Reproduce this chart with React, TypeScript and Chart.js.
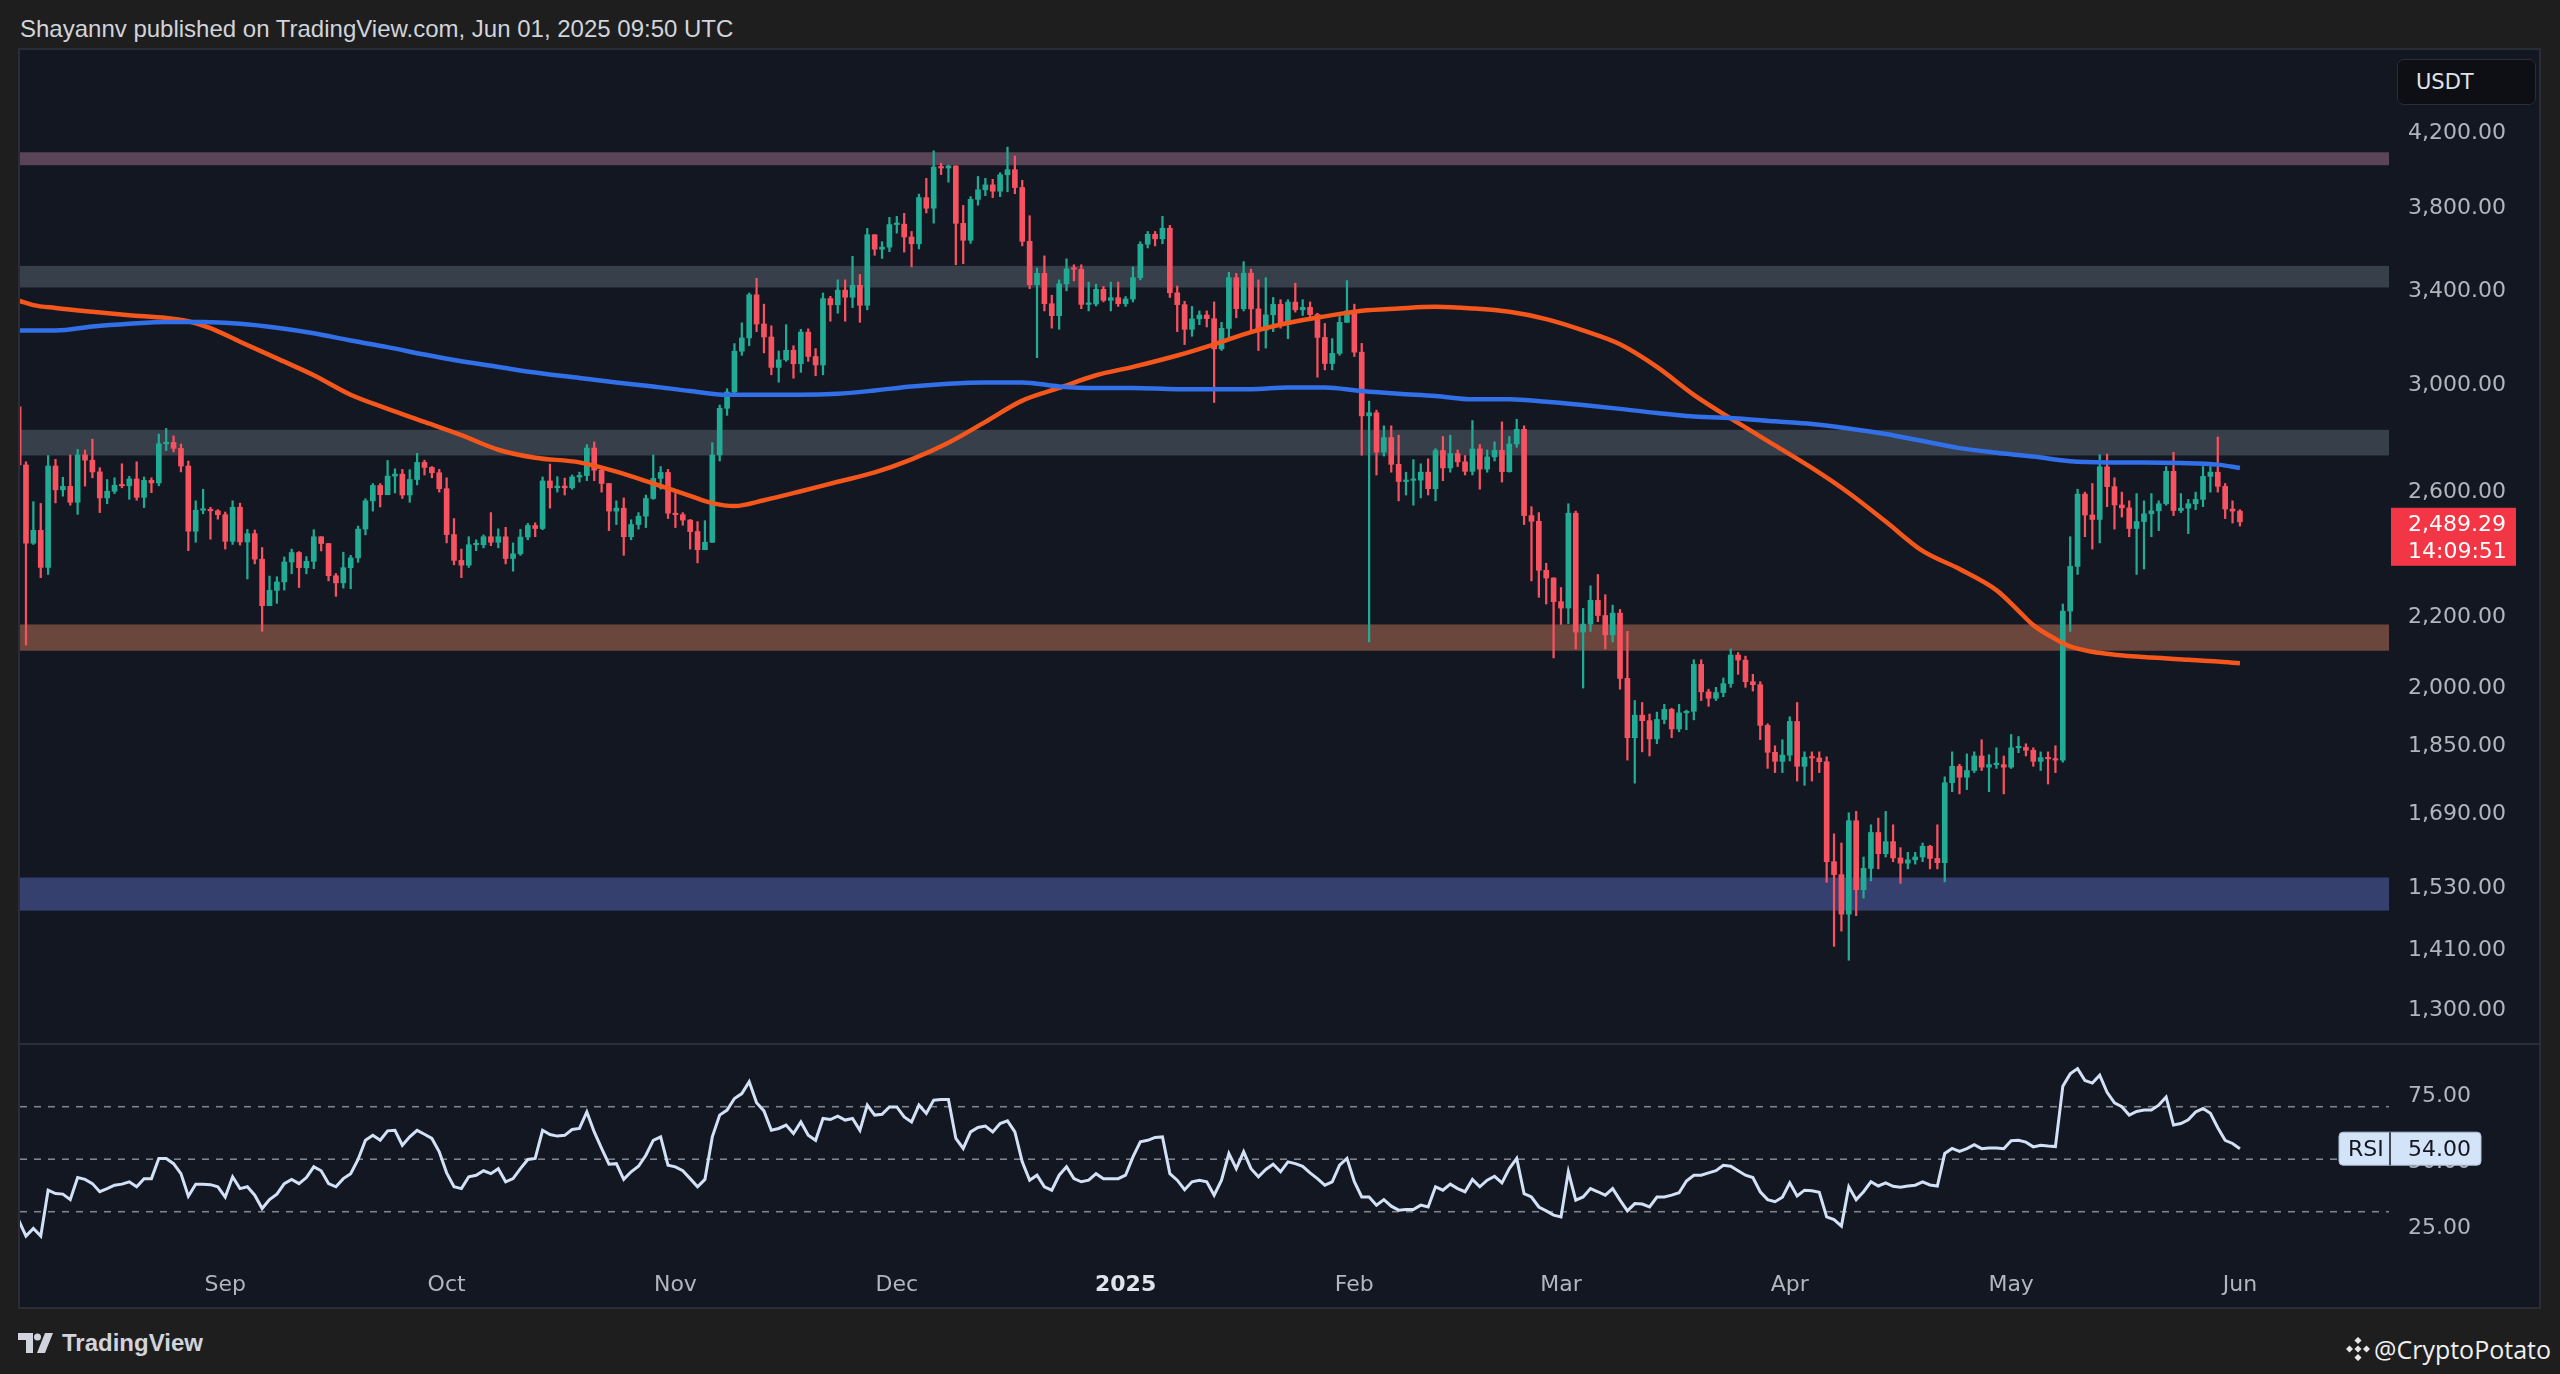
import React, { useEffect, useRef } from 'react';
import { Chart, registerables } from 'chart.js';

Chart.register(...registerables);

// ---------------- DATA ----------------
// Daily ETH/USDT candles, first candle = Aug 4, 2024 (index 0), last = Jun 1, 2025 (index 301)
const FIRST_DAY = '2024-08-04';
const firstOpen = 2903;

const closes = [
  2686,
  // Aug 5 - Aug 31
  2419, 2461, 2342, 2682, 2598, 2610, 2555, 2722, 2703, 2661, 2570, 2593, 2614, 2612, 2636, 2572, 2631, 2622, 2763, 2768, 2746, 2682, 2458, 2528, 2528, 2526, 2513,
  // Sep
  2425, 2538, 2423, 2450, 2368, 2225, 2271, 2297, 2359, 2389, 2341, 2361, 2440, 2418, 2316, 2294, 2341, 2372, 2465, 2560, 2613, 2581, 2646, 2653, 2580, 2634, 2695, 2677, 2658, 2602,
  // Oct
  2447, 2364, 2349, 2414, 2414, 2440, 2422, 2440, 2370, 2385, 2439, 2477, 2467, 2629, 2605, 2611, 2605, 2643, 2648, 2747, 2667, 2620, 2525, 2535, 2440, 2480, 2508, 2568, 2638, 2659, 2518,
  // Nov
  2513, 2495, 2457, 2398, 2422, 2722, 2897, 2961, 3127, 3183, 3372, 3243, 3187, 3060, 3091, 3131, 3075, 3208, 3105, 3070, 3355, 3327, 3393, 3361, 3415, 3325, 3654, 3584, 3594, 3704,
  // Dec
  3706, 3643, 3610, 3840, 3786, 4000, 3995, 4006, 3710, 3627, 3831, 3880, 3906, 3873, 3959, 3986, 3892, 3622, 3418, 3470, 3332, 3279, 3422, 3491, 3489, 3329, 3331, 3397, 3347, 3359, 3332,
  // Jan
  3353, 3450, 3608, 3656, 3634, 3686, 3381, 3328, 3220, 3265, 3282, 3266, 3137, 3224, 3450, 3310, 3471, 3309, 3216, 3283, 3329, 3240, 3339, 3305, 3316, 3284, 3185, 3076, 3118, 3250, 3300,
  // Feb
  3123, 2868, 2880, 2732, 2786, 2688, 2627, 2631, 2632, 2660, 2602, 2738, 2675, 2727, 2697, 2663, 2744, 2671, 2715, 2739, 2662, 2762, 2817, 2510, 2491, 2333, 2309, 2237,
  // Mar
  2218, 2518, 2148, 2171, 2241, 2196, 2140, 2203, 2019, 1865, 1922, 1908, 1862, 1911, 1937, 1887, 1928, 1932, 2057, 1983, 1966, 1981, 2005, 2083, 2069, 2010, 2002, 1896, 1829, 1807, 1822,
  // Apr
  1906, 1795, 1817, 1815, 1806, 1580, 1553, 1473, 1669, 1522, 1566, 1643, 1597, 1623, 1588, 1577, 1584, 1590, 1613, 1587, 1578, 1756, 1795, 1769, 1785, 1820, 1793, 1799, 1799, 1793,
  // May
  1840, 1841, 1834, 1807, 1816, 1813, 1810, 2209, 2345, 2583, 2512, 2497, 2679, 2609, 2546, 2536, 2467, 2490, 2516, 2526, 2550, 2663, 2527, 2535, 2550, 2565, 2645, 2660, 2610, 2532, 2525,
  // Jun 1
  2489.29,
];

const highs = [
  2935,
  2697, 2557, 2551, 2720, 2706, 2642, 2722, 2742, 2740, 2780, 2676, 2634, 2640, 2690, 2645, 2697, 2643, 2640, 2799, 2820, 2792, 2762, 2700, 2560, 2600, 2538, 2530,
  2522, 2560, 2552, 2464, 2462, 2405, 2315, 2313, 2375, 2400, 2392, 2376, 2463, 2440, 2418, 2323, 2390, 2380, 2475, 2567, 2620, 2620, 2702, 2672, 2670, 2669, 2728, 2703, 2680, 2670,
  2640, 2500, 2400, 2440, 2430, 2446, 2520, 2466, 2471, 2420, 2464, 2484, 2486, 2643, 2689, 2644, 2639, 2650, 2660, 2760, 2770, 2675, 2620, 2560, 2570, 2496, 2520, 2580, 2722, 2680, 2670,
  2585, 2520, 2497, 2490, 2493, 2767, 2910, 2974, 3159, 3248, 3380, 3447, 3330, 3235, 3128, 3240, 3150, 3220, 3222, 3138, 3380, 3365, 3440, 3440, 3550, 3465, 3685, 3640, 3620, 3740,
  3745, 3760, 3670, 3858, 3940, 4088, 4021, 4010, 4007, 3800, 3845, 3950, 3940, 3935, 3970, 4108, 4060, 3930, 3748, 3495, 3552, 3370, 3440, 3538, 3510, 3510, 3430, 3420, 3410, 3430, 3430,
  3364, 3500, 3620, 3670, 3670, 3745, 3700, 3412, 3343, 3320, 3300, 3300, 3340, 3250, 3475, 3470, 3525, 3490, 3440, 3450, 3360, 3350, 3350, 3425, 3350, 3340, 3290, 3245, 3180, 3275, 3437,
  3330, 3160, 2925, 2890, 2830, 2830, 2795, 2660, 2705, 2690, 2708, 2745, 2790, 2795, 2740, 2720, 2850, 2760, 2740, 2770, 2845, 2790, 2855, 2830, 2540, 2520, 2355, 2310,
  2280, 2550, 2525, 2217, 2285, 2320, 2258, 2227, 2214, 2150, 1960, 1955, 1925, 1930, 1950, 1940, 1950, 1935, 2070, 2070, 1990, 1995, 2020, 2100, 2090, 2080, 2030, 2010, 1900, 1845, 1860,
  1918, 1955, 1830, 1830, 1830, 1818, 1640, 1620, 1687, 1690, 1590, 1660, 1675, 1690, 1660, 1610, 1600, 1600, 1620, 1615, 1660, 1770, 1830, 1800, 1825, 1830, 1860, 1823, 1840, 1820,
  1873, 1868, 1850, 1840, 1830, 1830, 1845, 2230, 2440, 2600, 2590, 2620, 2723, 2725, 2640, 2590, 2560, 2585, 2560, 2585, 2560, 2680, 2732, 2585, 2565, 2590, 2680, 2680, 2788, 2620, 2560,
  2530,
];

const lows = [
  2630,
  2111, 2415, 2310, 2320, 2553, 2576, 2545, 2514, 2611, 2640, 2520, 2550, 2585, 2605, 2565, 2562, 2537, 2588, 2612, 2738, 2733, 2661, 2395, 2422, 2516, 2432, 2498,
  2400, 2415, 2413, 2306, 2353, 2150, 2235, 2232, 2272, 2322, 2280, 2322, 2338, 2394, 2300, 2253, 2278, 2276, 2358, 2446, 2525, 2539, 2585, 2587, 2568, 2555, 2615, 2650, 2640, 2590,
  2420, 2350, 2310, 2342, 2395, 2404, 2411, 2404, 2353, 2330, 2380, 2430, 2440, 2463, 2535, 2590, 2580, 2600, 2625, 2630, 2630, 2590, 2460, 2480, 2380, 2430, 2465, 2470, 2565, 2600, 2500,
  2470, 2478, 2400, 2356, 2405, 2421, 2700, 2870, 2950, 3110, 3150, 3210, 3120, 3030, 3000, 3085, 3016, 3040, 3085, 3026, 3030, 3255, 3290, 3255, 3315, 3250, 3305, 3555, 3540, 3572,
  3662, 3570, 3500, 3585, 3762, 3711, 3960, 3920, 3510, 3515, 3612, 3801, 3850, 3840, 3845, 3870, 3860, 3600, 3400, 3100, 3300, 3225, 3220, 3390, 3435, 3310, 3300, 3322, 3340, 3300, 3320,
  3320, 3340, 3440, 3590, 3600, 3610, 3360, 3210, 3155, 3190, 3240, 3230, 2920, 3130, 3180, 3270, 3300, 3210, 3130, 3140, 3210, 3225, 3180, 3295, 3280, 3270, 3020, 3050, 3050, 3110, 3260,
  3105, 2721, 2120, 2650, 2718, 2660, 2560, 2580, 2545, 2570, 2580, 2560, 2630, 2660, 2680, 2650, 2650, 2600, 2660, 2700, 2625, 2660, 2750, 2480, 2300, 2250, 2230, 2075,
  2170, 2172, 2100, 1993, 2150, 2178, 2100, 2120, 1990, 1810, 1755, 1830, 1820, 1850, 1900, 1865, 1880, 1885, 1910, 1960, 1945, 1960, 1970, 1995, 2030, 1995, 1985, 1860, 1790, 1780, 1780,
  1808, 1760, 1750, 1760, 1780, 1537, 1411, 1440, 1385, 1470, 1505, 1540, 1565, 1590, 1580, 1535, 1565, 1575, 1580, 1565, 1565, 1538, 1735, 1730, 1740, 1780, 1785, 1735, 1790, 1730,
  1790, 1828, 1820, 1795, 1785, 1753, 1780, 1805, 2150, 2320, 2440, 2400, 2420, 2540, 2465, 2505, 2440, 2320, 2337, 2440, 2460, 2545, 2510, 2520, 2450, 2530, 2540, 2590, 2590, 2500, 2485,
  2475,
];

// RSI(14) per candle (same indices as closes)
const rsiValues = [
  26.8, 20.7, 23.6, 20.7, 38.2, 36.9, 36.7, 34.6, 43.0, 42.3,
  40.7, 37.6, 38.8, 40.1, 40.5, 41.4, 39.5, 42.6, 42.6, 50.3,
  50.3, 48.3, 44.5, 35.9, 40.5, 40.5, 40.3, 39.5, 35.6, 43.3,
  38.8, 39.5, 36.3, 31.2, 34.6, 36.7, 40.7, 42.3, 40.7, 43.0,
  47.1, 45.6, 40.7, 39.5, 42.6, 44.5, 49.9, 57.2, 59.1, 57.2,
  60.8, 61.0, 55.3, 58.5, 61.0, 59.5, 57.9, 52.8, 44.8, 39.5,
  38.8, 43.3, 43.9, 45.6, 44.5, 46.4, 41.4, 42.6, 46.4, 49.9,
  50.3, 61.0, 59.4, 58.8, 59.1, 61.3, 61.7, 68.0, 60.4, 54.1,
  48.1, 48.3, 42.3, 45.2, 47.3, 51.5, 57.2, 58.5, 47.7, 47.1,
  45.6, 42.6, 39.5, 42.3, 58.5, 66.8, 68.7, 73.1, 75.0, 79.5,
  71.5, 68.4, 61.0, 61.7, 63.0, 59.8, 64.2, 59.1, 57.2, 65.5,
  65.1, 66.4, 64.9, 65.5, 61.0, 70.6, 66.8, 67.1, 69.9, 69.9,
  66.1, 64.2, 70.6, 67.4, 72.5, 72.7, 72.7, 57.9, 54.1, 60.4,
  62.1, 62.6, 60.4, 63.6, 64.6, 60.4, 49.0, 42.0, 43.9, 39.5,
  38.2, 43.9, 47.1, 42.6, 41.4, 42.0, 44.5, 42.6, 42.6, 42.6,
  43.9, 50.9, 56.6, 57.2, 58.3, 58.5, 44.5, 42.0, 38.4, 41.4,
  42.0, 41.4, 36.3, 42.0, 52.2, 46.4, 52.8, 46.4, 43.3, 46.1,
  48.1, 45.2, 49.0, 48.3, 47.3, 44.8, 42.6, 40.1, 41.4, 47.7,
  50.3, 41.4, 35.6, 35.6, 32.5, 34.6, 32.1, 30.6, 30.8, 30.8,
  32.5, 31.8, 39.5, 38.2, 40.5, 38.8, 37.6, 42.3, 39.5, 42.0,
  43.5, 41.0, 46.4, 50.3, 36.9, 35.6, 31.8, 30.3, 28.7, 28.0,
  45.2, 34.4, 35.6, 38.8, 37.6, 36.3, 38.8, 34.4, 30.3, 33.1,
  32.9, 31.8, 35.6, 35.6, 36.3, 37.2, 41.7, 43.9, 43.9, 44.8,
  45.6, 47.7, 47.3, 45.6, 43.9, 43.0, 37.6, 34.6, 33.8, 35.5,
  41.0, 36.0, 38.2, 38.0, 37.4, 28.0, 27.0, 24.5, 39.5, 34.6,
  37.6, 41.4, 39.8, 41.0, 39.7, 39.3, 39.8, 40.1, 41.4, 40.2,
  39.8, 52.2, 54.1, 53.0, 54.0, 55.5, 54.0, 54.3, 54.3, 54.0,
  57.0, 57.2, 56.5, 54.7, 55.3, 55.0, 54.8, 77.8, 82.5, 84.5,
  80.0, 79.0, 82.0, 75.5, 71.5, 70.0, 66.8, 68.2, 68.7, 68.7,
  70.6, 73.7, 63.0, 63.6, 65.0, 68.0, 69.3, 67.5, 62.0, 57.2,
  56.0, 54.0,
];

// Moving averages (candle index -> value)
const blueMaDays = [0, 5, 10, 15, 20, 25, 30, 35, 40, 45, 50, 55, 60, 65, 70, 76, 81, 86, 91, 96, 101, 106, 111, 116, 121, 126, 131, 136, 141, 146, 151, 157, 162, 167, 172, 177, 182, 187, 192, 197, 202, 207, 212, 217, 222, 227, 233, 238, 243, 248, 253, 258, 263, 268, 273, 278, 283, 288, 293, 298, 301];
const blueMaValues = [3215, 3215, 3232, 3244, 3252, 3252, 3244, 3227, 3203, 3172, 3144, 3113, 3085, 3062, 3039, 3017, 2999, 2983, 2965, 2950, 2950, 2950, 2954, 2967, 2983, 2994, 2999, 2999, 2983, 2977, 2977, 2972, 2972, 2972, 2979, 2979, 2965, 2954, 2945, 2932, 2932, 2923, 2910, 2895, 2879, 2866, 2858, 2847, 2837, 2820, 2799, 2773, 2747, 2730, 2716, 2699, 2695, 2695, 2693, 2687, 2675];

const orangeMaDays = [0, 2, 5, 10, 15, 20, 23, 26, 30, 35, 40, 45, 50, 55, 60, 65, 70, 76, 81, 86, 91, 94, 97, 101, 106, 111, 116, 121, 126, 131, 136, 141, 146, 151, 157, 162, 167, 172, 177, 182, 187, 192, 197, 202, 207, 212, 217, 222, 227, 233, 238, 243, 248, 253, 258, 263, 268, 271, 273, 276, 278, 281, 284, 289, 294, 298, 301];
const orangeMaValues = [3346, 3326, 3313, 3296, 3281, 3269, 3255, 3225, 3167, 3097, 3028, 2950, 2895, 2845, 2795, 2741, 2712, 2695, 2662, 2620, 2577, 2552, 2542, 2562, 2593, 2626, 2659, 2706, 2767, 2845, 2927, 2977, 3028, 3062, 3109, 3156, 3208, 3247, 3276, 3301, 3311, 3318, 3311, 3296, 3264, 3215, 3156, 3062, 2950, 2841, 2757, 2675, 2587, 2490, 2394, 2337, 2272, 2210, 2168, 2128, 2107, 2092, 2084, 2076, 2070, 2065, 2060];

// Horizontal zones (price ranges)
const zoneLows = [4010, 3405, 2720, 2095, 1480];
const zoneHighs = [4080, 3505, 2815, 2170, 1547];

// Axis ticks
const priceTicks = [1300, 1410, 1530, 1690, 1850, 2000, 2200, 2600, 3000, 3400, 3800, 4200];
const rsiTicks = [25, 50, 75];
const rsiLevels = [70, 50, 30];
const monthStarts = ['2024-09-01', '2024-10-01', '2024-11-01', '2024-12-01', '2025-01-01', '2025-02-01', '2025-03-01', '2025-04-01', '2025-05-01', '2025-06-01'];
const monthLabels = ['Sep', 'Oct', 'Nov', 'Dec', '2025', 'Feb', 'Mar', 'Apr', 'May', 'Jun'];
const countdownText = '14:09:51';

// ---------------- STYLE ----------------
const OUTER_BG = '#1e1e1e';
const PANE_BG = '#131722';
const BORDER = '#2a2d35';
const UP = '#22ab94';
const DOWN = '#f7525f';
const BLUE = '#3170e8';
const ORANGE = '#f4561c';
const RSI_COLOR = '#d2e1f6';
const AXIS_TEXT = '#b2b5be';
const ZONE_COLORS = ['#5a4457', '#363f4a', '#363f4a', '#6a463d', '#36406f'];
const FONT = "'DejaVu Sans', sans-serif";
const TICK_FONT_SIZE = 22;

const X_MIN = 0.19;
const X_MAX = 321.2;
const AXIS_WIDTH = 150;

Chart.defaults.font.family = FONT;

const dayIndex = (iso: string) => (Date.parse(iso) - Date.parse(FIRST_DAY)) / 86400000;
const fmtPrice = (v: number) => v.toLocaleString('en-US', { minimumFractionDigits: 2, maximumFractionDigits: 2 });

export default function App() {
  const mainRef = useRef<HTMLCanvasElement>(null);
  const rsiRef = useRef<HTMLCanvasElement>(null);

  useEffect(() => {
    document.body.style.margin = '0';
    document.body.style.background = OUTER_BG;

    const opens = closes.map((c, i) => (i === 0 ? firstOpen : closes[i - 1]));
    const colors = closes.map((c, i) => (c >= opens[i] ? UP : DOWN));
    const hi = highs.map((h, i) => Math.max(h, opens[i], closes[i]));
    const lo = lows.map((l, i) => Math.min(l, opens[i], closes[i]));
    const lastClose = closes[closes.length - 1];
    const lastRsi = rsiValues[rsiValues.length - 1];

    const zonesPlugin = {
      id: 'zones',
      beforeDatasetsDraw(chart: any) {
        const { ctx, chartArea, scales } = chart;
        ctx.save();
        zoneLows.forEach((low, i) => {
          const yTop = scales.y.getPixelForValue(zoneHighs[i]);
          const yBot = scales.y.getPixelForValue(low);
          ctx.fillStyle = ZONE_COLORS[i];
          ctx.fillRect(chartArea.left, yTop, chartArea.right - chartArea.left, yBot - yTop);
        });
        ctx.restore();
      },
    };

    const lastPricePlugin = {
      id: 'lastPrice',
      afterDraw(chart: any) {
        const { ctx, chartArea, scales } = chart;
        const y = scales.y.getPixelForValue(lastClose);
        ctx.save();
        ctx.fillStyle = '#f23645';
        ctx.fillRect(chartArea.right + 2, y - 14, 125, 58);
        ctx.fillStyle = '#ffffff';
        ctx.font = `${TICK_FONT_SIZE}px ${FONT}`;
        ctx.textBaseline = 'middle';
        ctx.textAlign = 'left';
        ctx.fillText(fmtPrice(lastClose), chartArea.right + 19, y + 4);
        ctx.fillText(countdownText, chartArea.right + 19, y + 31);
        ctx.restore();
      },
    };

    const rsiLabelPlugin = {
      id: 'rsiLabel',
      afterDraw(chart: any) {
        const { ctx, chartArea, scales } = chart;
        const y = scales.y.getPixelForValue(lastRsi);
        const left = chartArea.right - 50;
        const w = 142;
        const h = 33;
        ctx.save();
        ctx.fillStyle = '#d3e3f8';
        ctx.strokeStyle = '#aebfd8';
        ctx.lineWidth = 1;
        ctx.beginPath();
        (ctx as any).roundRect(left, y - h / 2, w, h, 4);
        ctx.fill();
        ctx.stroke();
        ctx.strokeStyle = '#131722';
        ctx.lineWidth = 1.5;
        ctx.beginPath();
        ctx.moveTo(chartArea.right + 1, y - h / 2);
        ctx.lineTo(chartArea.right + 1, y + h / 2);
        ctx.stroke();
        ctx.fillStyle = '#131722';
        ctx.font = `${TICK_FONT_SIZE}px ${FONT}`;
        ctx.textBaseline = 'middle';
        ctx.textAlign = 'left';
        ctx.fillText('RSI', left + 9, y + 2);
        ctx.fillText(lastRsi.toFixed(2), chartArea.right + 19, y + 2);
        ctx.restore();
      },
    };

    const yAfterFit = (s: any) => {
      s.width = AXIS_WIDTH;
      s.paddingTop = 0;
      s.paddingBottom = 0;
    };

    const mainChart = new Chart(mainRef.current as HTMLCanvasElement, {
      type: 'bar',
      data: {
        datasets: [
          {
            type: 'line',
            data: blueMaDays.map((d, i) => ({ x: d, y: blueMaValues[i] })),
            borderColor: BLUE,
            borderWidth: 4.5,
            pointRadius: 0,
            cubicInterpolationMode: 'monotone',
            order: 0,
          } as any,
          {
            type: 'line',
            data: orangeMaDays.map((d, i) => ({ x: d, y: orangeMaValues[i] })),
            borderColor: ORANGE,
            borderWidth: 4.5,
            pointRadius: 0,
            cubicInterpolationMode: 'monotone',
            order: 1,
          } as any,
          {
            type: 'bar',
            data: closes.map((c, i) => ({ x: i, y: [lo[i], hi[i]] })),
            backgroundColor: colors,
            barThickness: 1.6,
            grouped: false,
            order: 3,
          } as any,
          {
            type: 'bar',
            data: closes.map((c, i) => ({ x: i, y: [opens[i], c] })),
            backgroundColor: colors,
            barThickness: 5,
            minBarLength: 1.5,
            grouped: false,
            order: 2,
          } as any,
        ],
      },
      options: {
        responsive: false,
        maintainAspectRatio: false,
        animation: false,
        events: [],
        layout: { padding: 0 },
        plugins: { legend: { display: false }, tooltip: { enabled: false } },
        scales: {
          x: {
            type: 'linear',
            min: X_MIN,
            max: X_MAX,
            offset: false,
            display: false,
            grid: { display: false },
          },
          y: {
            type: 'logarithmic',
            position: 'right',
            min: 1239.9,
            max: 4677.9,
            grid: { display: false, drawTicks: false },
            border: { display: false },
            ticks: {
              color: AXIS_TEXT,
              font: { size: TICK_FONT_SIZE, family: FONT },
              padding: 19,
              labelOffset: 3,
              autoSkip: false,
              callback: (v: any) => fmtPrice(Number(v)),
            },
            afterBuildTicks: (s: any) => {
              s.ticks = priceTicks.map((v) => ({ value: v }));
            },
            afterFit: yAfterFit,
          },
        },
      } as any,
      plugins: [zonesPlugin, lastPricePlugin],
    });

    const monthIdx = monthStarts.map(dayIndex);

    const rsiChart = new Chart(rsiRef.current as HTMLCanvasElement, {
      type: 'line',
      data: {
        datasets: [
          {
            data: rsiValues.map((v, i) => ({ x: i, y: v })),
            borderColor: RSI_COLOR,
            borderWidth: 3,
            pointRadius: 0,
            tension: 0,
            order: 0,
          },
          ...rsiLevels.map((lvl) => ({
            data: [
              { x: X_MIN, y: lvl },
              { x: X_MAX, y: lvl },
            ],
            borderColor: '#80838d',
            borderWidth: 1.6,
            borderDash: [7, 7],
            pointRadius: 0,
            order: 1,
          })),
        ],
      },
      options: {
        responsive: false,
        maintainAspectRatio: false,
        animation: false,
        events: [],
        layout: { padding: 0 },
        plugins: { legend: { display: false }, tooltip: { enabled: false } },
        scales: {
          x: {
            type: 'linear',
            min: X_MIN,
            max: X_MAX,
            offset: false,
            grid: { display: false, drawTicks: false },
            border: { display: false },
            ticks: {
              autoSkip: false,
              maxRotation: 0,
              padding: 19,
              color: (c: any) => (c.index === 4 ? '#e0e3eb' : AXIS_TEXT),
              font: (c: any) => ({ size: TICK_FONT_SIZE, family: FONT, weight: c.index === 4 ? 'bold' : 'normal' }),
              callback: (_v: any, i: number) => monthLabels[i],
            },
            afterBuildTicks: (s: any) => {
              s.ticks = monthIdx.map((v) => ({ value: v }));
            },
            afterFit: (s: any) => {
              s.height = 54;
              s.paddingLeft = 0;
              s.paddingRight = 0;
            },
          },
          y: {
            type: 'linear',
            position: 'right',
            min: 14.27,
            max: 93.5,
            grid: { display: false, drawTicks: false },
            border: { display: false },
            ticks: {
              color: AXIS_TEXT,
              font: { size: TICK_FONT_SIZE, family: FONT },
              padding: 19,
              labelOffset: 3,
              autoSkip: false,
              callback: (v: any) => Number(v).toFixed(2),
            },
            afterBuildTicks: (s: any) => {
              s.ticks = rsiTicks.map((v) => ({ value: v }));
            },
            afterFit: yAfterFit,
          },
        },
      } as any,
      plugins: [rsiLabelPlugin],
    });

    return () => {
      mainChart.destroy();
      rsiChart.destroy();
    };
  }, []);

  const abs = (o: any) => ({ position: 'absolute' as const, ...o });

  return (
    <div style={{ position: 'fixed', left: 0, top: 0, width: 2560, height: 1374, background: OUTER_BG, overflow: 'hidden' }}>
      <div style={abs({ left: 20, top: 14, fontSize: 24, lineHeight: '30px', color: '#d1d4dc', fontFamily: "'Liberation Sans', Arial, sans-serif", whiteSpace: 'nowrap' })}>
        Shayannv published on TradingView.com, Jun 01, 2025 09:50 UTC
      </div>
      <div style={abs({ left: 18, top: 48, width: 2523, height: 1261, border: `2px solid ${BORDER}`, background: PANE_BG, boxSizing: 'border-box' })} />
      <canvas ref={mainRef} width={2519} height={993} style={abs({ left: 20, top: 50, width: 2519, height: 993 })} />
      <div style={abs({ left: 20, top: 1043, width: 2519, height: 2, background: '#2a2e39' })} />
      <canvas ref={rsiRef} width={2519} height={262} style={abs({ left: 20, top: 1045, width: 2519, height: 262 })} />
      <div
        style={abs({
          left: 2397,
          top: 59,
          width: 139,
          height: 46,
          boxSizing: 'border-box',
          border: '1.5px solid #2a2e39',
          borderRadius: 7,
          background: '#0d0f15',
          color: '#e0e3eb',
          fontFamily: FONT,
          fontSize: 21,
          lineHeight: '45px',
          paddingLeft: 18,
        })}
      >
        USDT
      </div>
      <div style={abs({ left: 18, top: 1328, height: 30, display: 'flex', alignItems: 'center', gap: 8, color: '#d1d4dc', fontFamily: "'Liberation Sans', Arial, sans-serif", fontSize: 24, fontWeight: 600 })}>
        <svg width="36" height="24" viewBox="0 0 36 24">
          <path d="M0 2h15v20H8V9H0z" fill="#d1d4dc" />
          <circle cx="19.5" cy="6" r="3.5" fill="#d1d4dc" />
          <path d="M27 2h8l-8 20h-8z" fill="#d1d4dc" />
        </svg>
        <span>TradingView</span>
      </div>
      <div style={abs({ right: 9, top: 1332, height: 34, display: 'flex', alignItems: 'center', gap: 4, color: '#f0f0f0', fontFamily: "'Open Sans', sans-serif", fontSize: 25 })}>
        <svg width="24" height="24" viewBox="0 0 24 24">
          <g fill="#e8e8e8">
            <rect x="9.5" y="1" width="5" height="5" transform="rotate(45 12 3.5)" />
            <rect x="9.5" y="18" width="5" height="5" transform="rotate(45 12 20.5)" />
            <rect x="1" y="9.5" width="5" height="5" transform="rotate(45 3.5 12)" />
            <rect x="18" y="9.5" width="5" height="5" transform="rotate(45 20.5 12)" />
            <rect x="9.5" y="9.5" width="5" height="5" transform="rotate(45 12 12)" />
          </g>
        </svg>
        <span>@CryptoPotato</span>
      </div>
    </div>
  );
}
